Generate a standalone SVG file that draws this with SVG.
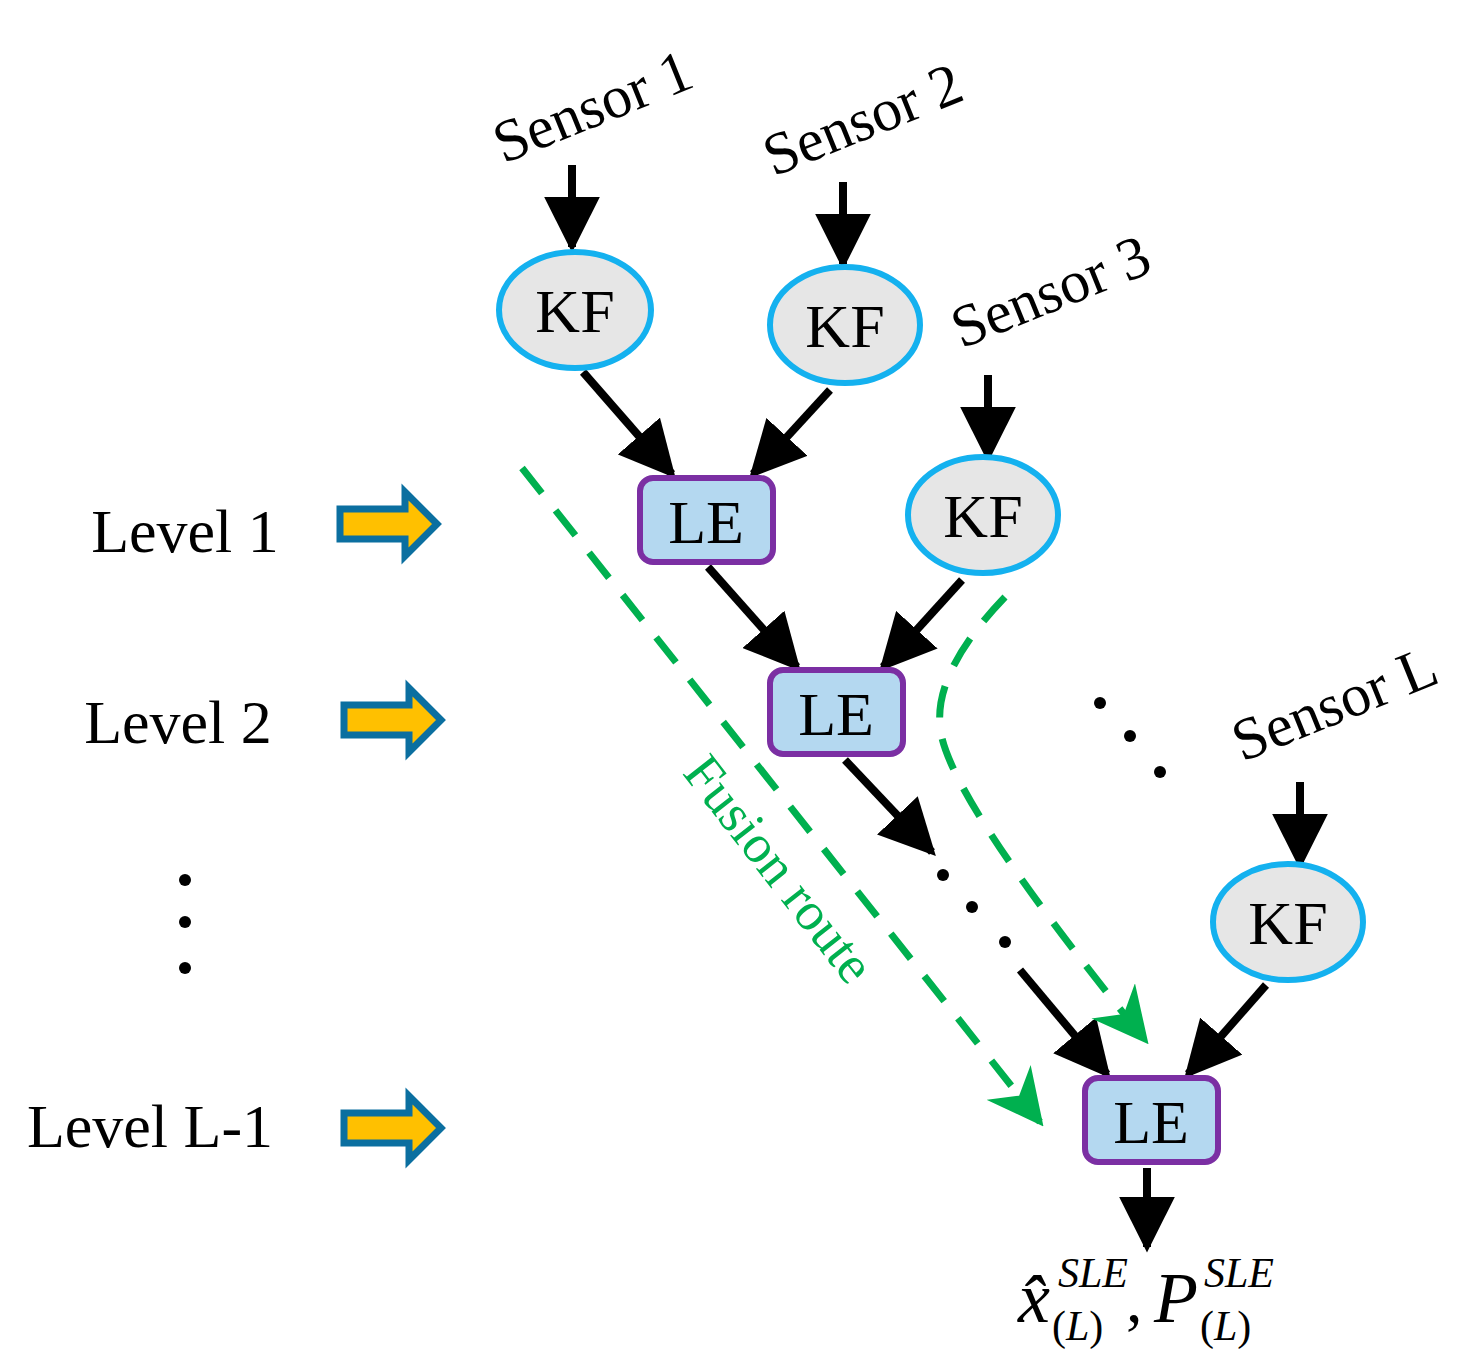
<svg xmlns="http://www.w3.org/2000/svg" width="1469" height="1365" viewBox="0 0 1469 1365">
<style>
text{font-family:"Liberation Serif",serif;fill:#000}
.kf{fill:#e6e6e6;stroke:#14b1ef;stroke-width:6}
.le{fill:#b4d8f0;stroke:#7b2fa3;stroke-width:6}
.lbl{font-size:62px;text-anchor:middle}
.c{stroke:#000;stroke-width:8;fill:none;marker-end:url(#ah)}
.g{stroke:#00b04f;stroke-width:7;fill:none;stroke-dasharray:32 22;marker-end:url(#gh)}
.lv{fill:#ffc000;stroke:#0b6fa0;stroke-width:7}
.it{font-style:italic}
</style>
<defs>
<marker id="ah" viewBox="0 0 10 10" refX="9" refY="5" markerWidth="7" markerHeight="7" orient="auto" markerUnits="strokeWidth"><path d="M0,0L10,5L0,10Z"/></marker>
<marker id="gh" viewBox="0 0 10 10" refX="9" refY="5" markerWidth="8" markerHeight="8" orient="auto" markerUnits="strokeWidth"><path d="M0,0L10,5L0,10L3,5Z" fill="#00b04f"/></marker>
</defs>
<g id="levels">
<text x="185" y="552" font-size="62" text-anchor="middle">Level 1</text>
<text x="178" y="743" font-size="62" text-anchor="middle">Level 2</text>
<text x="150" y="1147" font-size="62" text-anchor="middle">Level L-1</text>
<path class="lv" d="M340,509H405V492L437,524L405,556V539H340Z"/>
<path class="lv" d="M344,705H409V688L441,720L409,752V735H344Z"/>
<path class="lv" d="M344,1113H409V1096L441,1128L409,1160V1143H344Z"/>
<circle cx="185" cy="880" r="6"/><circle cx="185" cy="922" r="6"/><circle cx="185" cy="968" r="6"/>
</g>
<g id="sensors">
<text transform="translate(600,125) rotate(-22)" font-size="60" text-anchor="middle">Sensor 1</text>
<text transform="translate(870,138) rotate(-22)" font-size="60" text-anchor="middle">Sensor 2</text>
<text transform="translate(1058,310) rotate(-22)" font-size="60" text-anchor="middle">Sensor 3</text>
<text transform="translate(1342,722) rotate(-22)" font-size="60" text-anchor="middle">Sensor L</text>
</g>
<g id="connectors">
<line class="c" x1="572" y1="165" x2="572" y2="247"/>
<line class="c" x1="843" y1="182" x2="843" y2="264"/>
<line class="c" x1="988" y1="375" x2="988" y2="457"/>
<line class="c" x1="1300" y1="782" x2="1300" y2="864"/>
<line class="c" x1="1147" y1="1168" x2="1147" y2="1247"/>
<line class="c" x1="583" y1="372" x2="672" y2="474"/>
<line class="c" x1="830" y1="390" x2="753" y2="474"/>
<line class="c" x1="708" y1="567" x2="797" y2="667"/>
<line class="c" x1="962" y1="580" x2="883" y2="667"/>
<line class="c" x1="845" y1="760" x2="932" y2="852"/>
<line class="c" x1="1020" y1="970" x2="1107" y2="1074"/>
<line class="c" x1="1266" y1="985" x2="1188" y2="1074"/>
<path class="g" d="M522,468L1040,1122"/>
<path class="g" d="M1005,597Q935,670 940,725Q942,790 1145,1040"/>
</g>
<g id="dots">
<circle cx="943" cy="875" r="6"/><circle cx="972" cy="907" r="6"/><circle cx="1005" cy="942" r="6"/>
<circle cx="1100" cy="703" r="6"/><circle cx="1130" cy="736" r="6"/><circle cx="1160" cy="772" r="6"/>
</g>
<g id="kf1"><ellipse class="kf" cx="575" cy="310" rx="76" ry="58"/><text class="lbl" x="575" y="332">KF</text></g>
<g id="kf2"><ellipse class="kf" cx="845" cy="325" rx="75" ry="58"/><text class="lbl" x="845" y="347">KF</text></g>
<g id="kf3"><ellipse class="kf" cx="983" cy="515" rx="75" ry="58"/><text class="lbl" x="983" y="537">KF</text></g>
<g id="kfL"><ellipse class="kf" cx="1288" cy="922" rx="75" ry="58"/><text class="lbl" x="1288" y="944">KF</text></g>
<g id="le1"><rect class="le" x="640" y="478" width="133" height="84" rx="13"/><text class="lbl" x="706" y="543">LE</text></g>
<g id="le2"><rect class="le" x="770" y="670" width="133" height="84" rx="13"/><text class="lbl" x="836" y="735">LE</text></g>
<g id="le3"><rect class="le" x="1085" y="1078" width="133" height="84" rx="13"/><text class="lbl" x="1151" y="1143">LE</text></g>
<text transform="translate(765,880) rotate(52)" font-size="54" style="fill:#00b04f" text-anchor="middle">Fusion route</text>
<g id="output">
<text class="it" x="1018" y="1322" font-size="72">x̂</text>
<text class="it" x="1058" y="1287" font-size="42">SLE</text>
<text x="1052" y="1340" font-size="42">(<tspan class="it">L</tspan>)</text>
<text x="1126" y="1322" font-size="66">,</text>
<text class="it" x="1154" y="1322" font-size="72">P</text>
<text class="it" x="1204" y="1287" font-size="42">SLE</text>
<text x="1200" y="1340" font-size="42">(<tspan class="it">L</tspan>)</text>
</g>
</svg>
